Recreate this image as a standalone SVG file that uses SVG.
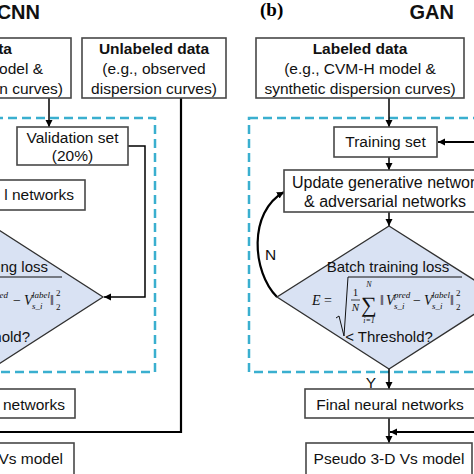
<svg xmlns="http://www.w3.org/2000/svg" width="474" height="474" viewBox="0 0 474 474">
<defs>
<marker id="ah" markerUnits="userSpaceOnUse" markerWidth="8" markerHeight="8" refX="7" refY="3.5" orient="auto">
<path d="M0,0 L7,3.5 L0,7 z" fill="#000"/>
</marker>
<style>
.box{fill:#fff;stroke:#484848;stroke-width:1.6}
.dash{fill:none;stroke:#3AAFCF;stroke-width:2.5;stroke-dasharray:9 5}
.dia{fill:#D9E2F3;stroke:#303030;stroke-width:1.3}
.t{font-family:"Liberation Sans",Arial,sans-serif;font-size:15.5px;fill:#111}
.b{font-weight:bold}
.c{text-anchor:middle}
.e{text-anchor:end}
.m{font-family:"Liberation Serif","DejaVu Serif",serif;font-style:italic;font-size:14px;fill:#111}
.mr{font-family:"Liberation Serif","DejaVu Serif",serif;font-size:14px;fill:#111}
.s{font-size:9px}
.ln{fill:none;stroke:#000;stroke-width:1.5}
.thk{fill:none;stroke:#000;stroke-width:2.2}
</style>
</defs>
<rect width="474" height="474" fill="#fff"/>

<!-- titles -->
<text x="40" y="19" class="t b e" style="font-size:20px">CNN</text>
<text x="260" y="16" style="font-family:'Liberation Serif',serif;font-weight:bold;font-size:19px">(b)</text>
<text x="454" y="19" class="t b e" style="font-size:20px">GAN</text>

<!-- dashed regions -->
<rect class="dash" x="-300" y="118" width="455" height="254"/>
<rect class="dash" x="249" y="118" width="300" height="254"/>

<g id="connectors">
<path class="ln" d="M49,98 V127" marker-end="url(#ah)"/>
<path class="ln" d="M128,146 H145 V297 H104" marker-end="url(#ah)"/>
<path class="thk" d="M181,98 V432 H-20"/>
<path class="ln" d="M389,98 V127" marker-end="url(#ah)"/>
<path class="thk" d="M480,142 H438" marker-end="url(#ah)"/>
<path class="ln" d="M389,157 V170" marker-end="url(#ah)"/>
<path class="ln" d="M389,212 V226" marker-end="url(#ah)"/>
<path class="thk" d="M277,297 C252,272 248,212 284,192" marker-end="url(#ah)"/>
<path class="ln" d="M389,369 V389" marker-end="url(#ah)"/>
<path class="ln" d="M389,418 V443" marker-end="url(#ah)"/>
<path class="thk" d="M480,432 H390" marker-end="url(#ah)"/>
<text x="265" y="260" class="t">N</text>
<text x="371" y="388" class="t c">Y</text>
</g>

<!-- left panel -->
<g id="cnn-labeled">
<rect class="box" x="-136" y="38" width="207" height="60"/>
<text x="12" y="54" class="t b e">ta</text>
<text x="43" y="74" class="t e">odel &amp;</text>
<text x="63" y="94" class="t e">n curves)</text>
</g>
<g id="cnn-unlabeled">
<rect class="box" x="82" y="38" width="144" height="60"/>
<text x="154" y="54" class="t b c">Unlabeled data</text>
<text x="154" y="74" class="t c">(e.g., observed</text>
<text x="154" y="94" class="t c">dispersion curves)</text>
</g>
<g id="cnn-validation">
<rect class="box" x="17" y="127" width="111" height="38"/>
<text x="72.5" y="143" class="t c">Validation set</text>
<text x="72.5" y="161" class="t c">(20%)</text>
</g>
<g id="cnn-networks">
<rect class="box" x="-100" y="180" width="185" height="30"/>
<text x="74" y="200" class="t e">l networks</text>
</g>
<g id="cnn-loss">
<polygon class="dia" points="-9,225 103,297 -9,369 -121,297"/>
<text x="48" y="272" class="t e" style="font-size:15px">ing loss</text>
<path d="M-20,277 H62" stroke="#111" stroke-width="1" fill="none"/>
<text x="8" y="298" class="m s e">ed</text>
<text x="13" y="305" class="mr">−</text>
<text x="24" y="305" class="m">V</text>
<text x="32" y="309" class="m s">s_i</text>
<text x="32" y="298" class="m s">label</text>
<text x="50" y="305" class="mr">‖</text>
<text x="56" y="296" class="mr s">2</text>
<text x="56" y="310" class="mr s">2</text>
<text x="30" y="342" class="t e" style="font-size:15px">nold?</text>
</g>
<g id="cnn-final">
<rect class="box" x="-93" y="389" width="168" height="29"/>
<text x="65" y="410" class="t e">networks</text>
</g>
<g id="cnn-model">
<rect class="box" x="-100" y="443" width="174" height="34"/>
<text x="63" y="464" class="t e">Vs model</text>
</g>

<!-- right panel -->
<g id="gan-labeled">
<rect class="box" x="256" y="38" width="208" height="60"/>
<text x="360" y="54" class="t b c">Labeled data</text>
<text x="360" y="74" class="t c">(e.g., CVM-H model &amp;</text>
<text x="360" y="94" class="t c">synthetic dispersion curves)</text>
</g>
<g id="gan-training">
<rect class="box" x="334" y="127" width="103" height="30"/>
<text x="385.5" y="147" class="t c">Training set</text>
</g>
<g id="gan-update">
<rect class="box" x="284" y="170" width="220" height="42"/>
<text x="292" y="188" class="t" style="font-size:16px">Update generative networ</text>
<text x="385" y="207" class="t c" style="font-size:16px">&amp; adversarial networks</text>
</g>
<g id="gan-loss">
<polygon class="dia" points="389,226 501,297 389,369 277,297"/>
<text x="388" y="272" class="t c" style="font-size:15px">Batch training loss</text>
<text x="312" y="305" class="m">E</text>
<text x="324" y="305" class="mr">=</text>
<path d="M336,318 L339,316 L344,336 L348,277 H462" stroke="#111" stroke-width="1" fill="none"/>
<text x="355.5" y="296" class="mr c" style="font-size:11px">1</text>
<path d="M351,300 H360" stroke="#111" stroke-width="0.8"/>
<text x="355.5" y="311" class="m c" style="font-size:11px">N</text>
<text x="361" y="312" class="mr" style="font-size:22px">∑</text>
<text x="369" y="287" class="m c" style="font-size:8px">N</text>
<text x="369" y="323" class="m c" style="font-size:8px">i=1</text>
<text x="380" y="305" class="mr">‖</text>
<text x="386" y="305" class="m">V</text>
<text x="394" y="309" class="m s">s_i</text>
<text x="394" y="298" class="m s">pred</text>
<text x="413" y="305" class="mr">−</text>
<text x="424" y="305" class="m">V</text>
<text x="432" y="309" class="m s">s_i</text>
<text x="432" y="298" class="m s">label</text>
<text x="450" y="305" class="mr">‖</text>
<text x="456" y="296" class="mr s">2</text>
<text x="456" y="310" class="mr s">2</text>
<text x="389" y="342" class="t c" style="font-size:15px">&lt; Threshold?</text>
</g>
<g id="gan-final">
<rect class="box" x="305" y="389" width="175" height="29"/>
<text x="390" y="410" class="t c">Final neural networks</text>
</g>
<g id="gan-model">
<rect class="box" x="306" y="443" width="166" height="34"/>
<text x="389" y="464" class="t c">Pseudo 3-D Vs model</text>
</g>
</svg>
